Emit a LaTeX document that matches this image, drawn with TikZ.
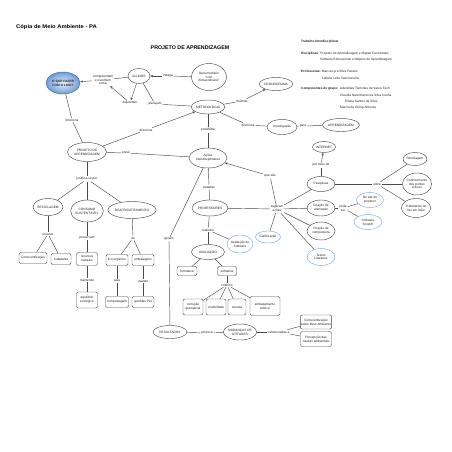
\documentclass[tikz,border=0pt]{standalone}
\usepackage{fontspec}
\setmainfont{Liberation Sans}
\usetikzlibrary{shapes.geometric,arrows.meta}
\definecolor{linea}{HTML}{4A4A4A}
\definecolor{texto}{HTML}{1E1E1E}
\definecolor{azulborde}{HTML}{8EB4E3}
\definecolor{azulclaro}{HTML}{E6EFFA}
\definecolor{azulfuerte}{HTML}{6F9BD6}
\definecolor{azuloscuro}{HTML}{3F6BA8}
\newcommand{\letrachica}{\fontsize{3.2}{3.8}\selectfont}
\newcommand{\letragrande}{\fontsize{5.3}{6.3}\selectfont\bfseries}
\tikzset{
  concepto/.style={ellipse, draw=linea, line width=0.45pt, inner sep=0pt, align=center, text=texto, font=\letrachica},
  conceptoazul/.style={concepto, draw=azulborde, line width=0.55pt},
  caja/.style={draw=linea, line width=0.45pt, rounded corners=2pt, inner sep=0.6pt, align=center, text=texto, font=\letrachica},
  enlace/.style={inner sep=0.9pt, align=center, text=texto, font=\letrachica},
  info/.style={anchor=west, inner sep=0pt, text=texto, font=\letrachica},
  conector/.style={draw=linea, line width=0.45pt},
  flecha/.style={conector, -{Stealth[length=2.8pt,width=2.2pt]}},
}

\begin{document}
\begin{tikzpicture}[x=1pt, y=-1pt]
  \useasboundingbox (0,0) rectangle (452,452);
  % titulos
  \node[anchor=west, inner sep=0pt, font=\letragrande, xscale=1.1] (titulo) at (16,27) {Cópia de Meio Ambiente - PA};
  \node[inner sep=0pt, font=\letragrande] (tituloPA) at (190,48) {PROJETO DE APRENDIZAGEM};
  % bloco de dados
  \node[info] (trabalho) at (301,42) {\textbf{Trabalho Interdisciplinar}};
  \node[info] (disc1) at (301,54) {\textbf{Disciplinas:} Projetos de Aprendizagem e Mapas Conceituais};
  \node[info] (disc2) at (320,60) {Software Educacional e Objetos de Aprendizagem};
  \node[info] (prof1) at (301,72) {\textbf{Professoras:} Marcia Lyra Silva Passos};
  \node[info] (prof2) at (322,78) {Lidiane Leite Vasconcelos};
  \node[info] (comp1) at (301,89) {\textbf{Componentes do grupo:}\ \ Adenildes Tiemotes de Vasco Tech};
  \node[info] (comp2) at (340,95) {Claudia Nascimento da Silva Cunha};
  \node[info] (comp3) at (345,101) {Eliana Santos da Silva};
  \node[info] (comp4) at (340,107) {Marcia da Glória Antunes};
  % conceitos de cima
  \node[concepto, draw=azuloscuro, shading=radial, inner color=azulclaro, outer color=azulfuerte, minimum width=34, minimum height=22, font=\letrachica\bfseries] (oque) at (63,83) {O QUE FAZER\\COM O LIXO?};
  \node[enlace] (compreendem) at (103,80) {compreendem\\e escolhem\\tema};
  \node[concepto, minimum width=22, minimum height=15] (alunos) at (139,76) {ALUNOS};
  \node[enlace] (indaga) at (168,76) {indaga};
  \node[concepto, minimum width=35, minimum height=27] (documentario) at (209,77) {Documentário\\``Lixo\\Extraordinário''};
  \node[enlace] (depositam) at (130,103) {depositam};
  \node[enlace] (planejam) at (155,104) {planejam};
  \node[concepto, minimum width=33, minimum height=14] (metodologia) at (208,107) {METODOLOGIA};
  \node[enlace] (delimita) at (242,101) {delimita};
  \node[concepto, minimum width=32, minimum height=13] (cronograma) at (276,84) {CRONOGRAMA};
  \node[enlace] (direcionaM) at (248,125) {direciona};
  \node[concepto, minimum width=30, minimum height=15] (investigacao) at (282,127) {Investigação};
  \node[enlace] (gera) at (303,126) {gera};
  \node[concepto, minimum width=37, minimum height=13] (aprendizagem) at (341,125) {APRENDIZAGEM};
  \node[enlace] (possibilita) at (208,130) {possibilita};
  \node[concepto, minimum width=38, minimum height=20] (acoes) at (208,158) {Ações\\interdisciplinares};
  \node[enlace] (direcionaL) at (72,120) {direciona};
  \node[enlace] (direcionaC) at (146,130) {direciona};
  \node[concepto, minimum width=39, minimum height=19] (projeto) at (87,152) {PROJETO DE\\APRENDIZAGEM};
  \node[enlace] (preve) at (126,153) {prevê};
  % lado esquerdo
  \node[enlace] (justifica) at (87,179) {justifica-se por};
  \node[concepto, minimum width=25, minimum height=17] (reciclagem) at (48,207) {RECICLAGEM};
  \node[concepto, minimum width=32, minimum height=22] (consumo) at (87,211) {CONSUMO\\SUSTENTÁVEL};
  \node[concepto, minimum width=41, minimum height=17] (reaproveitamento) at (132,210) {REAPROVEITAMENTO};
  \node[enlace] (envolve) at (48,234) {envolve};
  \node[caja, minimum width=28, minimum height=11] (conscientizacao) at (33,258) {Conscientização};
  \node[caja, minimum width=20, minimum height=11] (cidadania) at (61,259) {Cidadania};
  \node[enlace] (preservam) at (87,238) {preservam};
  \node[caja, minimum width=21, minimum height=13] (recursos) at (87,259) {recursos\\naturais};
  \node[enlace] (mantendo) at (87,280) {mantendo};
  \node[caja, minimum width=21, minimum height=16] (equilibrio) at (87,300) {equilíbrio\\ecológico};
  \node[enlace] (de) at (133,238) {de};
  \node[caja, minimum width=22, minimum height=11] (lixo) at (117,260) {lixo orgânico};
  \node[caja, minimum width=22, minimum height=11] (embalagens) at (143,260) {embalagens};
  \node[enlace] (para) at (117,281) {para};
  \node[enlace] (usando) at (143,281) {usando};
  \node[caja, minimum width=23, minimum height=11] (compostagem) at (117,302) {compostagem};
  \node[caja, minimum width=22, minimum height=11] (garrafas) at (143,302) {garrafas Pet};
  % centro
  \node[enlace] (geram) at (169,239) {geram};
  \node[enlace] (tratadas) at (209,187) {tratadas};
  \node[concepto, minimum width=36, minimum height=16] (professores) at (210,208) {PROFESSORES};
  \node[enlace] (realizam) at (208,230) {realizam};
  \node[concepto, minimum width=33, minimum height=15] (avaliacao) at (208,252) {AVALIAÇÃO};
  \node[conceptoazul, minimum width=24, minimum height=18] (avsoftware) at (240,244) {Avaliação do\\Software};
  \node[conceptoazul, minimum width=25, minimum height=12] (certificacao) at (268,237) {Certificação};
  \node[caja, minimum width=20, minimum height=9] (formativa) at (187,271) {formativa};
  \node[caja, minimum width=19, minimum height=9] (somativa) at (227,271) {somativa};
  \node[enlace] (criterios) at (227,285) {critérios};
  \node[caja, minimum width=20, minimum height=16] (correcao) at (193,307) {correção\\gramatical};
  \node[caja, minimum width=20, minimum height=16] (criatividade) at (216,307) {criatividade};
  \node[caja, minimum width=18, minimum height=16] (clareza) at (237,307) {clareza};
  \node[caja, minimum width=30, minimum height=19] (embasamento) at (265,306) {embasamento\\teórico};
  \node[concepto, minimum width=34, minimum height=13] (resultados) at (170,332) {RESULTADOS};
  \node[enlace] (provoca) at (207,333) {provoca};
  \node[concepto, minimum width=30, minimum height=16] (mudancas) at (240,332) {MUDANÇAS DE\\ATITUDES};
  \node[enlace] (relacionadas) at (279,332) {relacionadas a};
  \node[caja, minimum width=31, minimum height=14] (consciMA) at (316,322) {Conscientização\\sobre Meio Ambiente};
  \node[caja, minimum width=31, minimum height=15] (percepcao) at (316,339) {Percepção das\\causas ambientais};
  % lado direito
  \node[enlace] (quesao) at (270,176) {que são};
  \node[enlace] (sugerem) at (277,209) {sugerem\\ações};
  \node[concepto, minimum width=28, minimum height=15] (pesquisas) at (321,184) {Pesquisas};
  \node[enlace] (pormeio) at (321,165) {por meio de};
  \node[concepto, minimum width=23, minimum height=11] (internet) at (324,147) {INTERNET};
  \node[enlace] (sobre) at (377,184) {sobre};
  \node[concepto, minimum width=24, minimum height=13] (reciclagem2) at (415,159) {Reciclagem};
  \node[concepto, minimum width=27, minimum height=22] (conhecimento) at (417,184) {Conhecimento\\dos pontos\\críticos};
  \node[concepto, minimum width=26, minimum height=19] (tratamento) at (416,208) {Tratamento do\\lixo em lixão};
  \node[concepto, minimum width=28, minimum height=16] (animacao) at (321,208) {Criação de\\animação};
  \node[enlace] (podeser) at (343,208) {pode\\ser};
  \node[conceptoazul, minimum width=27, minimum height=15] (powtoon) at (370,200) {No site do\\powtoon};
  \node[conceptoazul, minimum width=28, minimum height=15] (scratch) at (368,222) {Software\\Scratch};
  \node[concepto, minimum width=28, minimum height=18] (composteira) at (321,231) {Criação de\\composteira};
  \node[conceptoazul, minimum width=28, minimum height=17] (textos) at (321,257) {Textos\\Literários};
  % conexoes
  \draw[conector] (alunos) -- (compreendem);
  \draw[flecha] (compreendem) -- (oque);
  \draw[conector] (documentario) -- (indaga);
  \draw[flecha] (indaga) -- (alunos);
  \draw[flecha] (alunos) -- (depositam);
  \draw[flecha] (depositam) -- (compreendem);
  \draw[conector] (alunos) -- (planejam);
  \draw[conector] (planejam) -- (metodologia);
  \draw[conector] (metodologia) -- (delimita);
  \draw[flecha] (delimita) -- (cronograma);
  \draw[conector] (metodologia) -- (direcionaM);
  \draw[conector] (direcionaM) -- (investigacao);
  \draw[conector] (investigacao) -- (gera);
  \draw[conector] (gera) -- (aprendizagem);
  \draw[conector] (metodologia) -- (possibilita);
  \draw[conector] (possibilita) -- (acoes);
  \draw[conector] (oque) -- (direcionaL);
  \draw[conector] (direcionaL) -- (projeto);
  \draw[conector] (projeto) -- (direcionaC);
  \draw[flecha] (direcionaC) -- (metodologia);
  \draw[conector] (projeto) -- (preve);
  \draw[conector] (preve) -- (acoes);
  \draw[conector] (projeto) -- (justifica);
  \draw[conector] (justifica) -- (reciclagem);
  \draw[conector] (justifica) -- (consumo);
  \draw[conector] (justifica) -- (reaproveitamento);
  \draw[conector] (reciclagem) -- (envolve);
  \draw[conector] (envolve) -- (conscientizacao);
  \draw[conector] (envolve) -- (cidadania);
  \draw[conector] (consumo) -- (preservam);
  \draw[conector] (preservam) -- (recursos);
  \draw[conector] (recursos) -- (mantendo);
  \draw[conector] (mantendo) -- (equilibrio);
  \draw[conector] (reaproveitamento) -- (de);
  \draw[conector] (de) -- (lixo);
  \draw[conector] (de) -- (embalagens);
  \draw[conector] (lixo) -- (para);
  \draw[conector] (para) -- (compostagem);
  \draw[conector] (embalagens) -- (usando);
  \draw[conector] (usando) -- (garrafas);
  \draw[conector] (acoes) -- (geram);
  \draw[conector] (geram) -- (resultados);
  \draw[conector] (acoes) -- (tratadas);
  \draw[conector] (tratadas) -- (professores);
  \draw[conector] (professores) -- (realizam);
  \draw[conector] (realizam) -- (avaliacao);
  \draw[conector] (realizam) -- (avsoftware);
  \draw[conector] (avaliacao) -- (formativa);
  \draw[conector] (avaliacao) -- (somativa);
  \draw[conector] (somativa) -- (criterios);
  \draw[conector] (criterios) -- (correcao);
  \draw[conector] (criterios) -- (criatividade);
  \draw[conector] (criterios) -- (clareza);
  \draw[conector] (criterios) -- (embasamento);
  \draw[conector] (resultados) -- (provoca);
  \draw[conector] (provoca) -- (mudancas);
  \draw[conector] (mudancas) -- (relacionadas);
  \draw[conector] (relacionadas) -- (consciMA);
  \draw[conector] (relacionadas) -- (percepcao);
  \draw[conector] (professores) -- (sugerem);
  \draw[conector] (sugerem) -- (quesao);
  \draw[flecha] (quesao) -- (acoes);
  \draw[conector] (sugerem) -- (certificacao);
  \draw[conector] (sugerem) -- (pesquisas);
  \draw[conector] (sugerem) -- (animacao);
  \draw[conector] (sugerem) -- (composteira);
  \draw[conector] (sugerem) -- (textos);
  \draw[conector] (pesquisas) -- (pormeio);
  \draw[flecha] (pormeio) -- (internet);
  \draw[conector] (pesquisas) -- (sobre);
  \draw[conector] (sobre) -- (reciclagem2);
  \draw[conector] (sobre) -- (conhecimento);
  \draw[conector] (sobre) -- (tratamento);
  \draw[conector] (animacao) -- (podeser);
  \draw[conector] (podeser) -- (powtoon);
  \draw[conector] (podeser) -- (scratch);
\end{tikzpicture}
\end{document}
